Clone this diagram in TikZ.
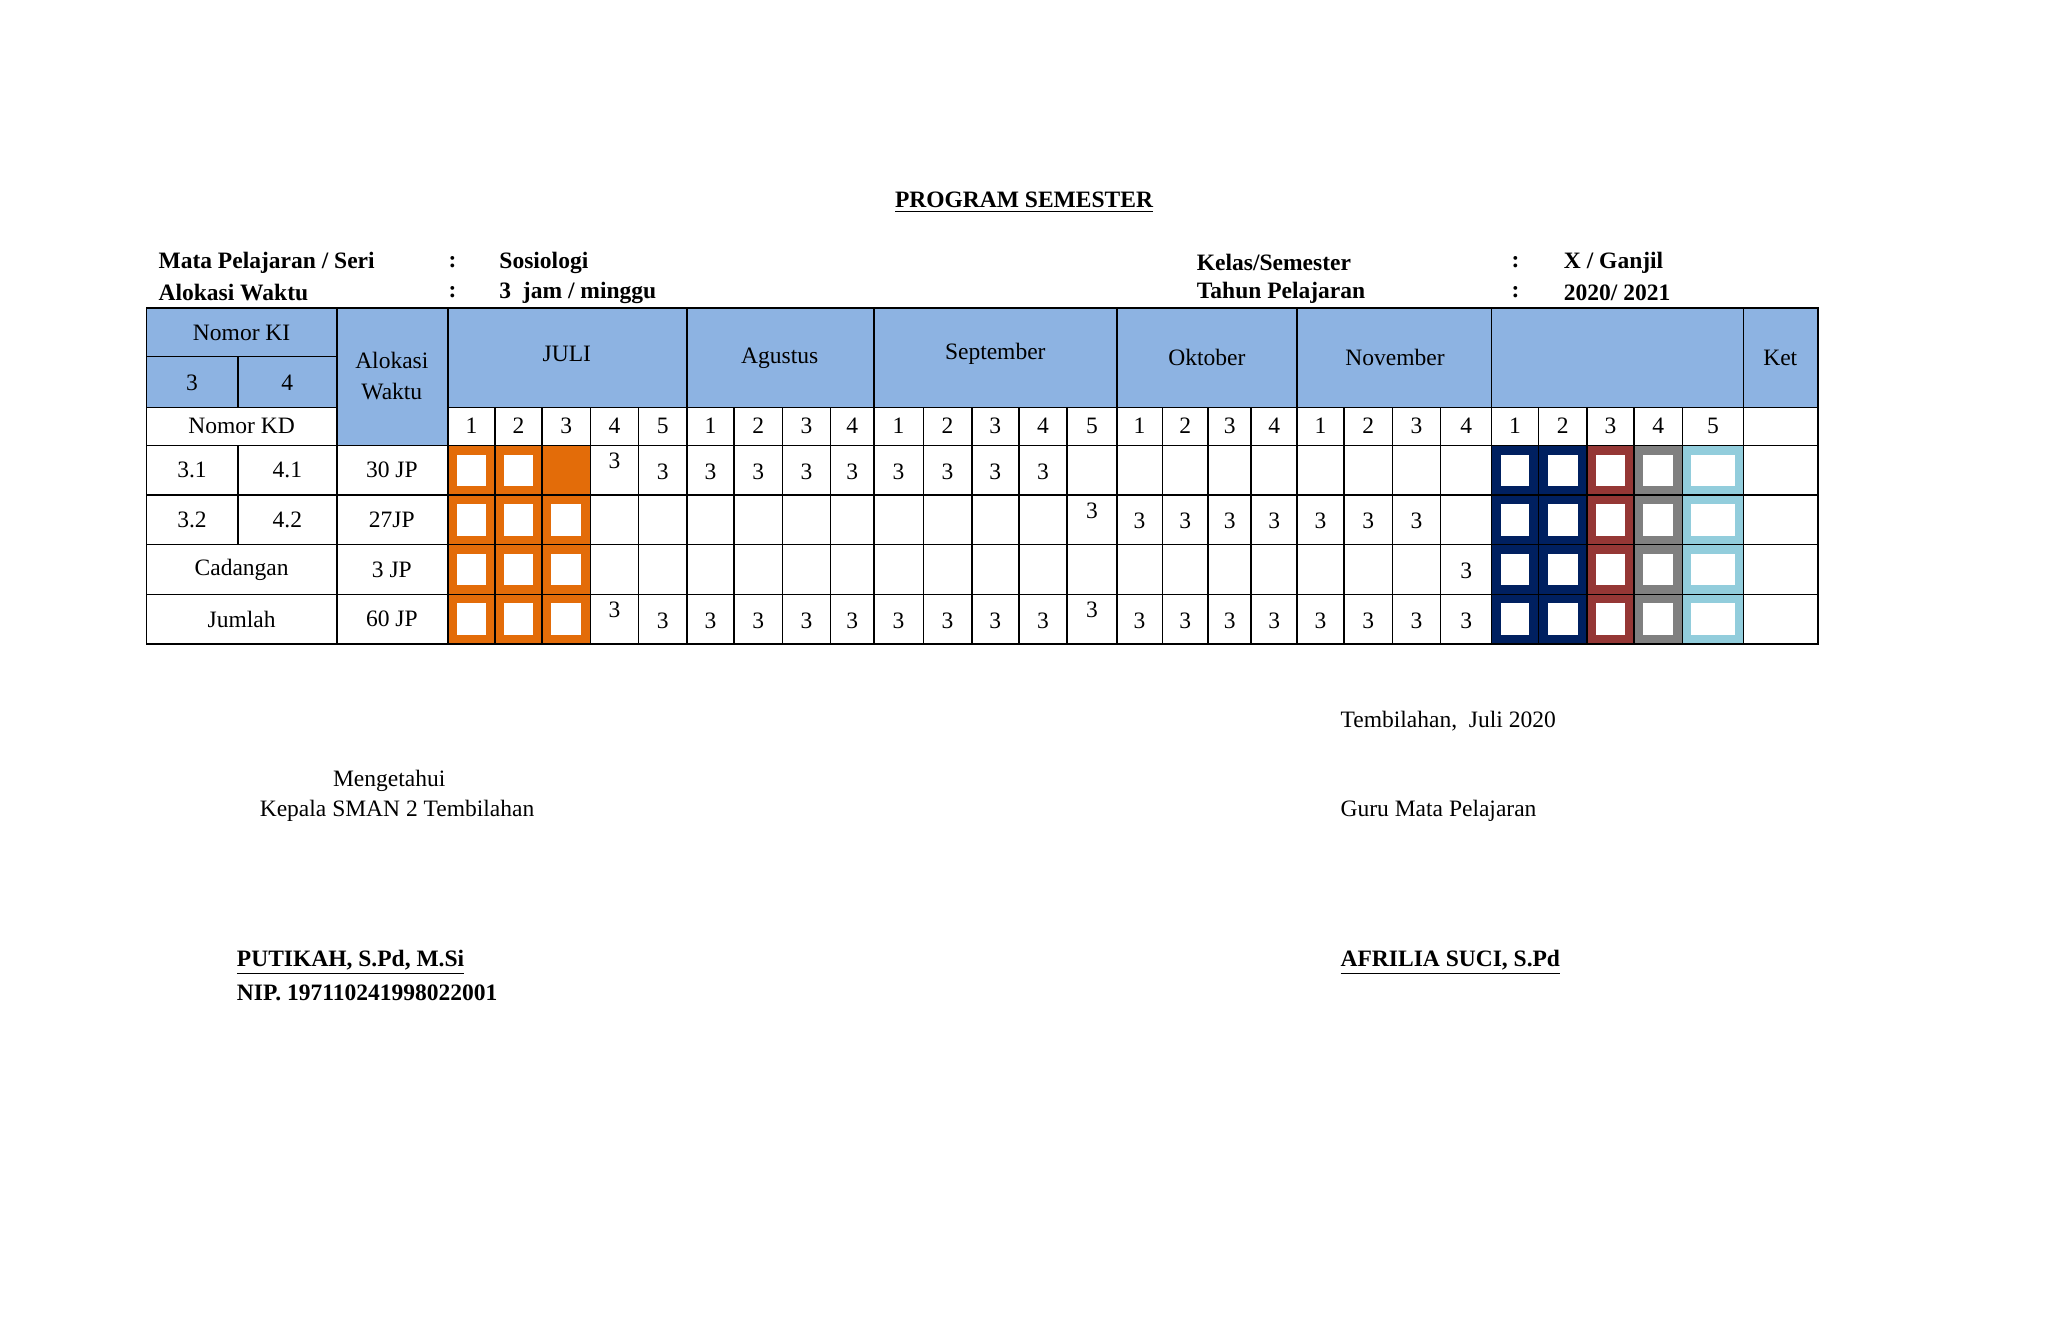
\documentclass[tikz,border=0pt]{standalone}
\usepackage{fontspec}
\setmainfont{Liberation Serif}
\definecolor{hdr}{HTML}{8DB3E2}
\definecolor{org}{HTML}{E36C09}
\definecolor{nvy}{HTML}{002060}
\definecolor{rdd}{HTML}{953735}
\definecolor{gry}{HTML}{808080}
\definecolor{lbl}{HTML}{92CDDC}
\begin{document}
\begin{tikzpicture}[x=0.5pt,y=-0.5pt,
  txt/.style={inner sep=0pt,font=\fontsize{9}{10}\selectfont},
  btxt/.style={txt,font=\fontsize{9}{10}\selectfont\bfseries},
  grid/.style={draw=black,line width=0.6pt}]
\useasboundingbox[fill=white] (0,0) rectangle (1568,1021);
\def\xs{{343,379,415,452,489,526,562,599,636,669,707,744,780,817,855,890,925,958,993,1029,1066,1103,1142,1178,1215,1251,1288,1335}}
\def\ys{{341,379,417,455,493}}
\newcommand{\colmid}[1]{\pgfmathsetmacro\xa{\xs[#1]}\pgfmathsetmacro\xb{\xs[#1+1]}\pgfmathsetmacro\xm{(\xa+\xb)/2}}
% header fills
\fill[hdr] (112,236) rectangle (1392,312);
\fill[hdr] (258,312) rectangle (343,341);
% coloured blocks
\foreach \c/\col in {0/org,1/org,2/org,22/nvy,23/nvy,24/rdd,25/gry,26/lbl}{
  \colmid{\c}
  \fill[\col] (\xa,341) rectangle (\xb,493);
  \foreach \r in {0,1,2,3}{
    \pgfmathsetmacro\ya{\ys[\r]}
    \ifnum\c=2 \ifnum\r=0 \else
      \fill[white] (\xa+7,\ya+7) rectangle (\xb-7,\ya+31);\fi
    \else \fill[white] (\xa+7,\ya+7) rectangle (\xb-7,\ya+31);\fi
  }
}
% grid
\draw[grid] (112,236) rectangle (1392,493);
\foreach \y in {341,379,417,455}{\draw[grid] (112,\y) -- (1392,\y);}
\draw[grid] (112,312) -- (258,312);
\draw[grid] (343,312) -- (1392,312);
\draw[grid] (112,273) -- (258,273);
\draw[grid] (182,273) -- (182,312);
\draw[grid] (182,341) -- (182,417);
\draw[grid] (258,236) -- (258,493);
\draw[grid] (343,236) -- (343,493);
\foreach \x in {526,669,855,993,1142,1335}{\draw[grid] (\x,236) -- (\x,493);}
\foreach \i in {1,...,26}{\pgfmathsetmacro\xa{\xs[\i]}\draw[grid] (\xa,312) -- (\xa,493);}
% header texts
\node[txt] (nki) at (185,255) {Nomor KI};
\node[txt] (k3) at (147,293) {3};
\node[txt] (k4) at (220,293) {4};
\node[txt,align=center] (aw) at (300,288) {Alokasi\\[2pt]Waktu};
\node[txt] (nkd) at (185,326) {Nomor KD};
\node[txt] (jul) at (434,271) {JULI};
\node[txt] (agu) at (597,274) {Agustus};
\node[txt] (sep) at (762,271) {September};
\node[txt] (okt) at (924,274) {Oktober};
\node[txt] (nov) at (1068,274) {November};
\node[txt] (ket) at (1363,274) {Ket};
\foreach \i/\w in {0/1,1/2,2/3,3/4,4/5,5/1,6/2,7/3,8/4,9/1,10/2,11/3,12/4,13/5,14/1,15/2,16/3,17/4,18/1,19/2,20/3,21/4,22/1,23/2,24/3,25/4,26/5}{
  \colmid{\i}
  \node[txt] (w\i) at (\xm,326) {\w};}
% row labels
\node[txt] (r1a) at (147,360) {3.1}; \node[txt] (r1b) at (220,360) {4.1}; \node[txt] (r1c) at (300,360) {30 JP};
\node[txt] (r2a) at (147,398) {3.2}; \node[txt] (r2b) at (220,398) {4.2}; \node[txt] (r2c) at (300,398) {27JP};
\node[txt] (r3a) at (185,436) {Cadangan}; \node[txt] (r3c) at (300,436) {3 JP};
\node[txt] (r4a) at (185,474) {Jumlah}; \node[txt] (r4c) at (300,474) {60 JP};
% data threes
\newcommand{\three}[3]{\colmid{#1}\pgfmathsetmacro\yb{\ys[#2]}\pgfmathsetmacro\yy{\yb+#3}\node[txt] at (\xm,\yy) {3};}
\three{3}{0}{12}
\foreach \i in {4,...,12}{\three{\i}{0}{20}}
\three{13}{1}{12}
\foreach \i in {14,...,20}{\three{\i}{1}{20}}
\three{21}{2}{20}
\three{3}{3}{12}
\foreach \i in {4,...,12}{\three{\i}{3}{20}}
\three{13}{3}{12}
\foreach \i in {14,...,21}{\three{\i}{3}{20}}
% title and info
\node[btxt] (ttl) at (784,155) {\underline{PROGRAM SEMESTER}};
\node[btxt,anchor=west] (mp) at (121,201) {Mata Pelajaran / Seri};
\node[btxt,anchor=west] (c1) at (343,201) {:};
\node[btxt,anchor=west] (so) at (382,201) {Sosiologi};
\node[btxt,anchor=west] (al) at (121,224) {Alokasi Waktu};
\node[btxt,anchor=west] (c2) at (343,224) {:};
\node[btxt,anchor=west] (jm) at (382,224) {3\ \ jam / minggu};
\node[btxt,anchor=west] (ks) at (916,201) {Kelas/Semester};
\node[btxt,anchor=west] (c3) at (1157,201) {:};
\node[btxt,anchor=west] (xg) at (1197,201) {X / Ganjil};
\node[btxt,anchor=west] (tp) at (916,224) {Tahun Pelajaran};
\node[btxt,anchor=west] (c4) at (1157,224) {:};
\node[btxt,anchor=west] (yr) at (1197,224) {2020/ 2021};
% footer
\node[txt,anchor=west] (tb) at (1026,552) {Tembilahan,\ \ Juli 2020};
\node[txt] (mg) at (298,598) {Mengetahui};
\node[txt] (kp) at (304,621) {Kepala SMAN 2 Tembilahan};
\node[txt,anchor=west] (gm) at (1026,621) {Guru Mata Pelajaran};
\node[btxt,anchor=west] (pt) at (181,737) {\underline{PUTIKAH, S.Pd, M.Si}};
\node[btxt,anchor=west] (np) at (181,760) {NIP. 197110241998022001};
\node[btxt,anchor=west] (af) at (1026,737) {\underline{AFRILIA SUCI, S.Pd}};
\end{tikzpicture}
\end{document}
